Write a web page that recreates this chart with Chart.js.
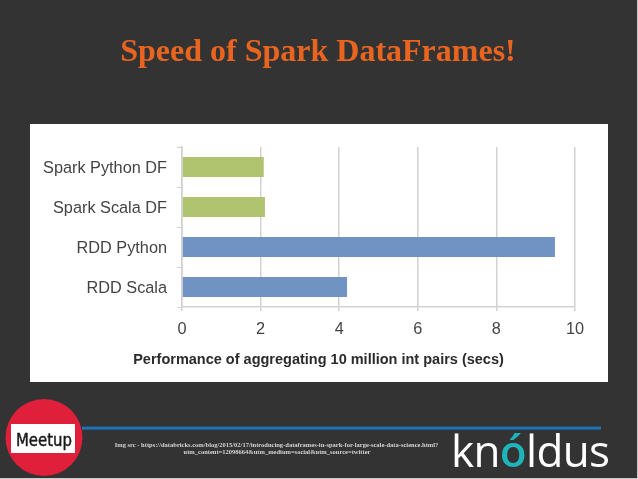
<!DOCTYPE html>
<html><head><meta charset="utf-8">
<style>
html,body{margin:0;padding:0;width:638px;height:479px;overflow:hidden;background:#c9c9c9}
#slide{position:absolute;left:0;top:0;width:637px;height:478px;background:#333333;overflow:hidden}
#c{position:absolute;left:0;top:0;width:638px;height:479px;filter:blur(0.35px)}
svg{position:absolute;left:0;top:0}
</style>
<script src="https://cdn.jsdelivr.net/npm/chart.js@4/dist/chart.umd.min.js"></script>
</head><body>
<div id="slide">
<canvas id="c" width="638" height="479"></canvas>
<svg width="638" height="479" viewBox="0 0 638 479">
  <rect x="82" y="426.6" width="519" height="3" fill="#1b75b9"/>
  <circle cx="44" cy="437.5" r="38.5" fill="#e0203a"/>
  <rect x="11" y="424" width="64" height="29" fill="#fff"/>
  <text x="44" y="446" text-anchor="middle" font-family="DejaVu Sans" font-size="18" stroke="#1a1a1a" stroke-width="0.5" textLength="56" lengthAdjust="spacingAndGlyphs" fill="#1a1a1a">Meetup</text>
  <text x="276.5" y="447" text-anchor="middle" font-family="Liberation Serif" font-weight="bold" font-size="6.5" fill="#d4d4d4">Img src - https://databricks.com/blog/2015/02/17/introducing-dataframes-in-spark-for-large-scale-data-science.html?</text>
  <text x="277" y="454" text-anchor="middle" font-family="Liberation Serif" font-weight="bold" font-size="6.5" fill="#d4d4d4">utm_content=12098664&amp;utm_medium=social&amp;utm_source=twitter</text>
  <text x="451" y="467" font-family="Open Sans" font-size="44" textLength="159" lengthAdjust="spacing" fill="#ffffff">kn<tspan fill="#1fb4bb" font-weight="600">ó</tspan>ldus</text>
</svg>
</div>
<script>
const categories = ["Spark Python DF", "Spark Scala DF", "RDD Python", "RDD Scala"];
const seconds = [2.08, 2.11, 9.49, 4.2];
const barColors = ["#b0c36e", "#b0c36e", "#7093c4", "#7093c4"];
const xTicks = [0, 2, 4, 6, 8, 10];
const chartTitle = "Speed of Spark DataFrames!";
const xAxisTitle = "Performance of aggregating 10 million int pairs (secs)";

const panelPlugin = {
  id: "panel",
  afterLayout(chart) {
    const t = chart.titleBlock;
    t.left = 0; t.right = 636;
  },
  beforeDraw(chart) {
    const g = chart.ctx;
    g.save();
    g.fillStyle = "#ffffff";
    g.fillRect(30, 124, 578, 258);
    g.restore();
  }
};

new Chart(document.getElementById("c"), {
  type: "bar",
  plugins: [panelPlugin],
  data: {
    labels: categories,
    datasets: [{ data: seconds, backgroundColor: barColors, borderWidth: 0, barPercentage: 0.5, categoryPercentage: 1 }]
  },
  options: {
    indexAxis: "y",
    responsive: false,
    animation: false,
    devicePixelRatio: 1,
    layout: { padding: { left: 30, right: 63, bottom: 97, top: 0 } },
    plugins: {
      legend: { display: false },
      tooltip: { enabled: false },
      title: {
        display: true, text: chartTitle, color: "#e8641f",
        font: { family: "Liberation Serif", size: 32, weight: "bold", lineHeight: 1.2 },
        padding: { top: 33.5, bottom: 75.1 }
      }
    },
    scales: {
      x: {
        min: 0, max: 10,
        afterBuildTicks(s) { s.ticks = xTicks.map(v => ({ value: v })); },
        grid: { color: "#d2d2d2", lineWidth: 1.5, tickLength: 4, tickColor: "#d2d2d2" },
        border: { color: "#d2d2d2", width: 1.5 },
        ticks: { color: "#444444", padding: 9, maxRotation: 0, font: { family: "Liberation Sans", size: 16.3 } },
        title: { display: true, text: xAxisTitle, color: "#2b2b2b", padding: { top: 6, bottom: 13 }, font: { family: "Liberation Sans", size: 14.5, weight: "bold" } },
        afterFit(s) {
          s.height = 75;
          if (!s._shifted) {
            s._shifted = true;
            const drawTitle = s.drawTitle;
            s.drawTitle = function () {
              const g = this.ctx;
              g.save();
              g.translate(-60, 0);
              drawTitle.call(this);
              g.restore();
            };
          }
        }
      },
      y: {
        afterFit(s) { s.width = 152; },
        grid: { offset: true, drawOnChartArea: false, tickLength: 5, color: "#d2d2d2" },
        border: { color: "#d2d2d2", width: 1.5 },
        ticks: { color: "#444444", padding: 10, labelOffset: 1.5, font: { family: "Liberation Sans", size: 16.3 } }
      }
    }
  }
});
</script>
</body></html>
